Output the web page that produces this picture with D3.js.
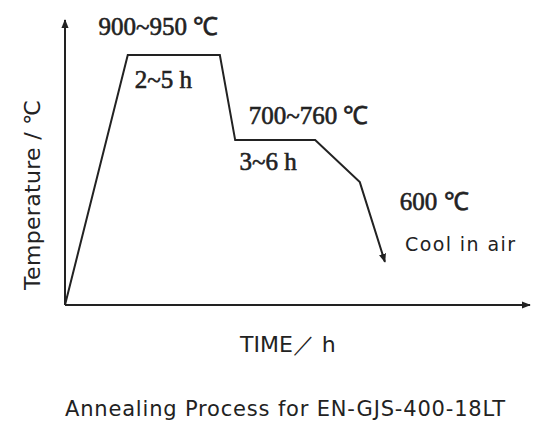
<!DOCTYPE html>
<html><head><meta charset="utf-8">
<script src="https://cdn.jsdelivr.net/npm/d3@7"></script>
<style>body{margin:0;background:#fff}</style>
</head><body>
<svg id="c" width="537" height="439"></svg>
<script>
// schematic process curve (time units, temperature units)
const times = [0, 1.35, 3.33, 3.66, 5.38, 6.34, 6.88]
const temps = [0, 893, 893, 589, 589, 439, 154]
const labels = [
  { t: 0.72, v: 965, text: '900~950 ℃' },
  { t: 1.5, v: 775, text: '2~5 h' },
  { t: 3.95, v: 645, text: '700~760 ℃' },
  { t: 3.75, v: 482, text: '3~6 h' },
  { t: 7.2, v: 340, text: '600 ℃' }
]

const svg = d3.select('#c')
const x = d3.scaleLinear().domain([0, 10]).range([65, 530])
const y = d3.scaleLinear().domain([0, 1000]).range([305, 25])

const defs = svg.append('defs')
defs.append('marker').attr('id', 'ar').attr('viewBox', '0 0 10 10').attr('refX', 9).attr('refY', 5)
  .attr('markerWidth', 9).attr('markerHeight', 9).attr('orient', 'auto-start-reverse').attr('markerUnits', 'userSpaceOnUse')
  .append('path').attr('d', 'M0,1 L10,5 L0,9 Z').attr('fill', '#222')

// axes
svg.append('line').attr('x1', x(0)).attr('y1', y(0)).attr('x2', x(0)).attr('y2', y(1000) - 5)
  .attr('stroke', '#222').attr('stroke-width', 2).attr('marker-end', 'url(#ar)')
svg.append('line').attr('x1', x(0)).attr('y1', y(0)).attr('x2', x(10)).attr('y2', y(0))
  .attr('stroke', '#222').attr('stroke-width', 2).attr('marker-end', 'url(#ar)')

const pts = times.map((t, i) => [x(t), y(temps[i])])
svg.append('path').attr('d', d3.line()(pts)).attr('fill', 'none')
  .attr('stroke', '#222').attr('stroke-width', 2).attr('marker-end', 'url(#ar)')

svg.selectAll('text.lab').data(labels).join('text').attr('class', 'lab')
  .attr('x', d => x(d.t)).attr('y', d => y(d.v))
  .attr('font-family', 'Liberation Serif, serif').attr('font-size', 25).attr('fill', '#222')
  .attr('stroke', '#222').attr('stroke-width', 0.6)
  .text(d => d.text)

svg.append('text').attr('x', 405).attr('y', 251).attr('font-family', 'DejaVu Sans, sans-serif')
  .attr('font-size', 19).attr('fill', '#222').attr('textLength', 110).text('Cool in air')

svg.append('text').attr('transform', 'translate(40,195) rotate(-90)').attr('text-anchor', 'middle')
  .attr('font-family', 'DejaVu Sans, sans-serif').attr('font-size', 22).attr('fill', '#222')
  .attr('textLength', 190).text('Temperature / ℃')

svg.append('text').attr('x', 240).attr('y', 352).attr('font-family', 'DejaVu Sans, sans-serif')
  .attr('font-size', 22).attr('fill', '#222').text('TIME／ h')

svg.append('text').attr('x', 65).attr('y', 416)
  .attr('font-family', 'DejaVu Sans, sans-serif').attr('font-size', 21).attr('fill', '#222')
  .attr('textLength', 440).text('Annealing Process for EN-GJS-400-18LT')
</script>
</body></html>
